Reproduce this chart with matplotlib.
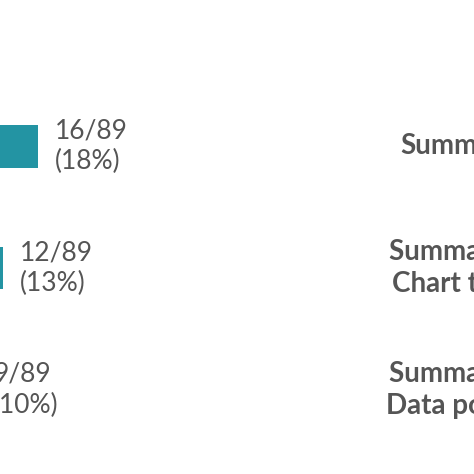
import matplotlib
matplotlib.use("Agg")
import matplotlib.pyplot as plt

conditions = ["Summary", "Summary +\nChart type", "Summary +\nData points"]
counts = [16, 12, 9]
total = 89

fig = plt.figure(figsize=(4.74, 4.74), dpi=100)
ax = fig.add_axes([0, 0, 1, 1])
ax.axis("off")
ypos = list(range(len(counts)))
ax.barh(ypos, counts, height=0.35, color="#2394a3", left=0)
ax.set_xlim(11.66, 65.83)
ax.set_ylim(2.69, -1.2)
for y, c in zip(ypos, counts):
    ax.text(c + 1.9, y, f"{c}/{total}\n({round(100*c/total)}%)", va="center", ha="left",
            fontsize=19, color="#555555", family=["Lato", "DejaVu Sans"], linespacing=1.3)
for y, t in zip(ypos, conditions):
    ax.text(64, y, t, va="center", ha="center", fontsize=20, fontweight="bold",
            color="#555555", family=["Lato", "DejaVu Sans"], linespacing=1.3)
fig.savefig("out.png", dpi=100)
